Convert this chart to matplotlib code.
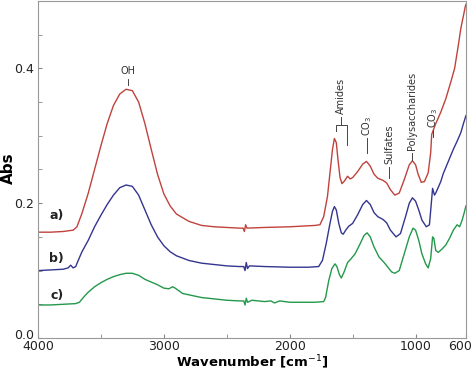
import numpy as np
import matplotlib
matplotlib.use("Agg")
import matplotlib.pyplot as plt
from matplotlib.transforms import ScaledTranslation

# spectra (wavenumber in cm-1, absorbance)
wn_a = [4000, 3900, 3800, 3720, 3690, 3650, 3600, 3550, 3500, 3450, 3400, 3350, 3300, 3250,
        3200, 3150, 3100, 3050, 3000, 2950, 2900, 2800, 2700, 2600, 2500, 2400, 2370, 2360,
        2350, 2340, 2200, 2000, 1900, 1800, 1760, 1730, 1700, 1680, 1660, 1645, 1630, 1615,
        1600, 1585, 1565, 1540, 1520, 1500, 1460, 1420, 1390, 1360, 1330, 1300, 1260, 1230,
        1200, 1165, 1130, 1090, 1050, 1025, 1000, 980, 955, 930, 900, 880, 872, 860, 840,
        800, 760, 720, 690, 660, 640, 620, 605, 600]
abs_a = [0.157, 0.157, 0.158, 0.160, 0.165, 0.185, 0.215, 0.250, 0.285, 0.318, 0.345, 0.362,
         0.369, 0.367, 0.350, 0.318, 0.280, 0.243, 0.214, 0.196, 0.184, 0.173, 0.167, 0.165,
         0.164, 0.163, 0.163, 0.158, 0.168, 0.163, 0.164, 0.165, 0.166, 0.167, 0.168, 0.180,
         0.210, 0.245, 0.280, 0.296, 0.290, 0.262, 0.238, 0.229, 0.233, 0.240, 0.236, 0.238,
         0.247, 0.258, 0.262, 0.255, 0.243, 0.237, 0.234, 0.230, 0.220, 0.212, 0.215, 0.235,
         0.257, 0.263, 0.257, 0.243, 0.231, 0.232, 0.245, 0.275, 0.302, 0.308, 0.318, 0.335,
         0.355, 0.380, 0.400, 0.435, 0.460, 0.478, 0.492, 0.495]

wn_b = [4000, 3900, 3800, 3760, 3740, 3720, 3700, 3680, 3650, 3600, 3550, 3500, 3450, 3400,
        3350, 3300, 3250, 3200, 3150, 3100, 3050, 3000, 2950, 2900, 2800, 2700, 2600, 2500,
        2400, 2365, 2355, 2345, 2335, 2320, 2200, 2000, 1850, 1770, 1740, 1710, 1680, 1660,
        1645, 1630, 1610, 1590, 1575, 1555, 1530, 1500, 1460, 1420, 1390, 1360, 1330, 1300,
        1260, 1230, 1200, 1155, 1120, 1080, 1050, 1025, 1000, 975, 950, 915, 890, 875, 865,
        850, 840, 800, 780, 740, 700, 670, 640, 620, 600]
abs_b = [0.100, 0.101, 0.102, 0.104, 0.108, 0.104, 0.106, 0.115, 0.128, 0.145, 0.165, 0.182,
         0.198, 0.212, 0.223, 0.227, 0.225, 0.212, 0.190, 0.168, 0.150, 0.137, 0.128, 0.122,
         0.115, 0.111, 0.109, 0.107, 0.106, 0.106, 0.100, 0.112, 0.103, 0.107, 0.106, 0.105,
         0.105, 0.106, 0.115, 0.140, 0.170, 0.188, 0.195, 0.190, 0.170, 0.156, 0.154, 0.160,
         0.166, 0.170, 0.183, 0.198, 0.204, 0.198, 0.186, 0.180, 0.176, 0.171, 0.160, 0.150,
         0.155, 0.180, 0.200, 0.208, 0.203, 0.190, 0.175, 0.165, 0.168, 0.200, 0.222, 0.212,
         0.215, 0.232, 0.244, 0.262, 0.280, 0.292, 0.305, 0.318, 0.330]

wn_c = [4000, 3900, 3800, 3700, 3670, 3640, 3600, 3550, 3500, 3450, 3400, 3350, 3300, 3250,
        3200, 3150, 3100, 3050, 3000, 2960, 2930, 2910, 2880, 2850, 2800, 2700, 2600, 2500,
        2400, 2365, 2355, 2345, 2335, 2300, 2200, 2150, 2120, 2080, 2000, 1900, 1800, 1730,
        1715, 1690, 1665, 1640, 1625, 1605, 1590, 1570, 1540, 1515, 1480, 1440, 1410, 1385,
        1360, 1330, 1290, 1250, 1220, 1190, 1165, 1130, 1090, 1050, 1020, 1000, 975, 950,
        920, 900, 880, 865, 855, 840, 820, 790, 760, 730, 700, 670, 650, 630, 615, 600]
abs_c = [0.049, 0.049, 0.050, 0.051, 0.053, 0.060, 0.068, 0.076, 0.082, 0.087, 0.091, 0.094,
         0.096, 0.096, 0.093, 0.087, 0.083, 0.079, 0.074, 0.073, 0.076, 0.074, 0.070, 0.066,
         0.064, 0.060, 0.058, 0.056, 0.055, 0.055, 0.049, 0.059, 0.053, 0.056, 0.054, 0.055,
         0.052, 0.055, 0.053, 0.053, 0.053, 0.054, 0.060, 0.085, 0.103, 0.110, 0.106, 0.094,
         0.089, 0.097, 0.112, 0.117, 0.125, 0.140, 0.152, 0.156, 0.150, 0.135, 0.120, 0.112,
         0.105, 0.098, 0.096, 0.100, 0.125, 0.150, 0.163, 0.160, 0.145, 0.125, 0.110, 0.104,
         0.118, 0.150, 0.148, 0.130, 0.127, 0.132, 0.138, 0.148, 0.160, 0.168, 0.165, 0.175,
         0.185, 0.196]

curve_labels = ["a)", "b)", "c)"]
label_y = [0.182, 0.118, 0.063]

# band annotations: (text, wavenumber, line bottom, line top, rotated)
bands = [("OH", 3287, 0.376, 0.385, False),
         ("CO$_3$", 1389, 0.274, 0.296, True),
         ("Sulfates", 1209, 0.237, 0.254, True),
         ("Polysaccharides", 1031, 0.264, 0.275, True),
         ("CO$_3$", 860, 0.298, 0.308, True)]

fig = plt.figure(figsize=(4.74, 3.74), dpi=100)
ax = fig.add_axes([0.080, 0.0963, 0.903, 0.901])

ax.plot(wn_a, abs_a, color="#c0423c", linewidth=1.0)
ax.plot(wn_b, abs_b, color="#34358e", linewidth=1.0)
ax.plot(wn_c, abs_c, color="#23984a", linewidth=1.0)

for lab, yy in zip(curve_labels, label_y):
    ax.text(3850, yy, lab, fontsize=9, fontweight="bold", color="#222222",
            ha="center", va="center")

for txt, w, y0, y1, rot in bands:
    ax.plot([w, w], [y0, y1], color="#444444", linewidth=0.7)
    if rot:
        ax.text(w, y1 + 0.004, txt, rotation=90, fontsize=7, color="#333333",
                ha="center", va="bottom")
    else:
        ax.text(w, y1 + 0.004, txt, fontsize=7, color="#333333",
                ha="center", va="bottom")

# amides bracket
ax.plot([1635, 1635, 1548, 1548], [0.307, 0.316, 0.316, 0.286], color="#444444", linewidth=0.7)
ax.plot([1593, 1593], [0.316, 0.328], color="#444444", linewidth=0.7)
ax.text(1593, 0.332, "Amides", rotation=90, fontsize=7, color="#333333",
        ha="center", va="bottom")

ax.set_xlim(4000, 600)
ax.set_ylim(0, 0.5)
ax.set_xticks([4000, 3000, 2000, 1000, 600])
ax.set_xticks([3500, 2500, 1500], minor=True)
ax.set_yticks([0.0, 0.2, 0.4])
ax.set_yticks([0.05, 0.1, 0.15, 0.25, 0.3, 0.35, 0.45], minor=True)
ax.set_yticklabels(["0.0", "0.2", "0.4"])
ax.tick_params(which="both", direction="in", color="#888888", labelcolor="#222222",
               labelsize=9, length=3)
ax.tick_params(axis="x", pad=1.5)
ax.tick_params(axis="y", pad=3)
for sp in ax.spines.values():
    sp.set_color("#999999")

# keep the last x label inside the figure
fig.canvas.draw()
xlabels = ax.get_xticklabels()
xlabels[-1].set_transform(xlabels[-1].get_transform()
                          + ScaledTranslation(-6 / 100, 0, fig.dpi_scale_trans))
# lift 0.0 a little so it clears 4000
ylabels = ax.get_yticklabels()
ylabels[0].set_transform(ylabels[0].get_transform()
                         + ScaledTranslation(0, 4 / 100, fig.dpi_scale_trans))

ax.set_xlabel("Wavenumber [cm$^{-1}$]", fontsize=9.5, fontweight="bold", labelpad=0)
fig.text(0.017, 0.55, "Abs", rotation=90, fontsize=11, fontweight="bold",
         ha="center", va="center")

fig.savefig("out.png", dpi=100)
